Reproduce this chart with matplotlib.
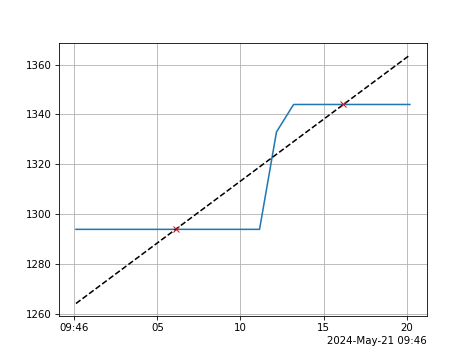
import matplotlib
matplotlib.use("Agg")
import matplotlib.pyplot as plt
import matplotlib.dates as mdates
import numpy as np
from datetime import datetime, timedelta

base = datetime(2024, 5, 21, 9, 46, 0)

# price series (seconds after base, value)
series_secs = [0.1, 1.1, 2.1, 3.1, 4.1, 5.1, 6.1, 7.1, 8.1, 9.1, 10.1, 11.15, 12.17, 13.2, 14.2, 15.2, 16.2, 17.2, 18.2, 19.2, 20.2]
series_vals = [1294, 1294, 1294, 1294, 1294, 1294, 1294, 1294, 1294, 1294, 1294, 1294, 1333, 1344, 1344, 1344, 1344, 1344, 1344, 1344, 1344]

# trend line endpoints
trend_secs = [0.1, 20.2]
trend_vals = [1264.3, 1363.8]

# marked points
mark_secs = [6.1, 16.2]
mark_vals = [1294, 1344]

def to_dt(secs):
    return [base + timedelta(seconds=s) for s in secs]

fig, ax = plt.subplots(figsize=(474 / 74, 355 / 74), dpi=74)
ax.plot(to_dt(series_secs), series_vals, color='C0')
ax.plot(to_dt(trend_secs), trend_vals, 'k--')
ax.plot(to_dt(mark_secs), mark_vals, 'rx')

locator = mdates.AutoDateLocator()
ax.xaxis.set_major_locator(locator)
ax.xaxis.set_major_formatter(mdates.ConciseDateFormatter(locator))
ax.grid(True)

fig.savefig("out.png", dpi=74)
